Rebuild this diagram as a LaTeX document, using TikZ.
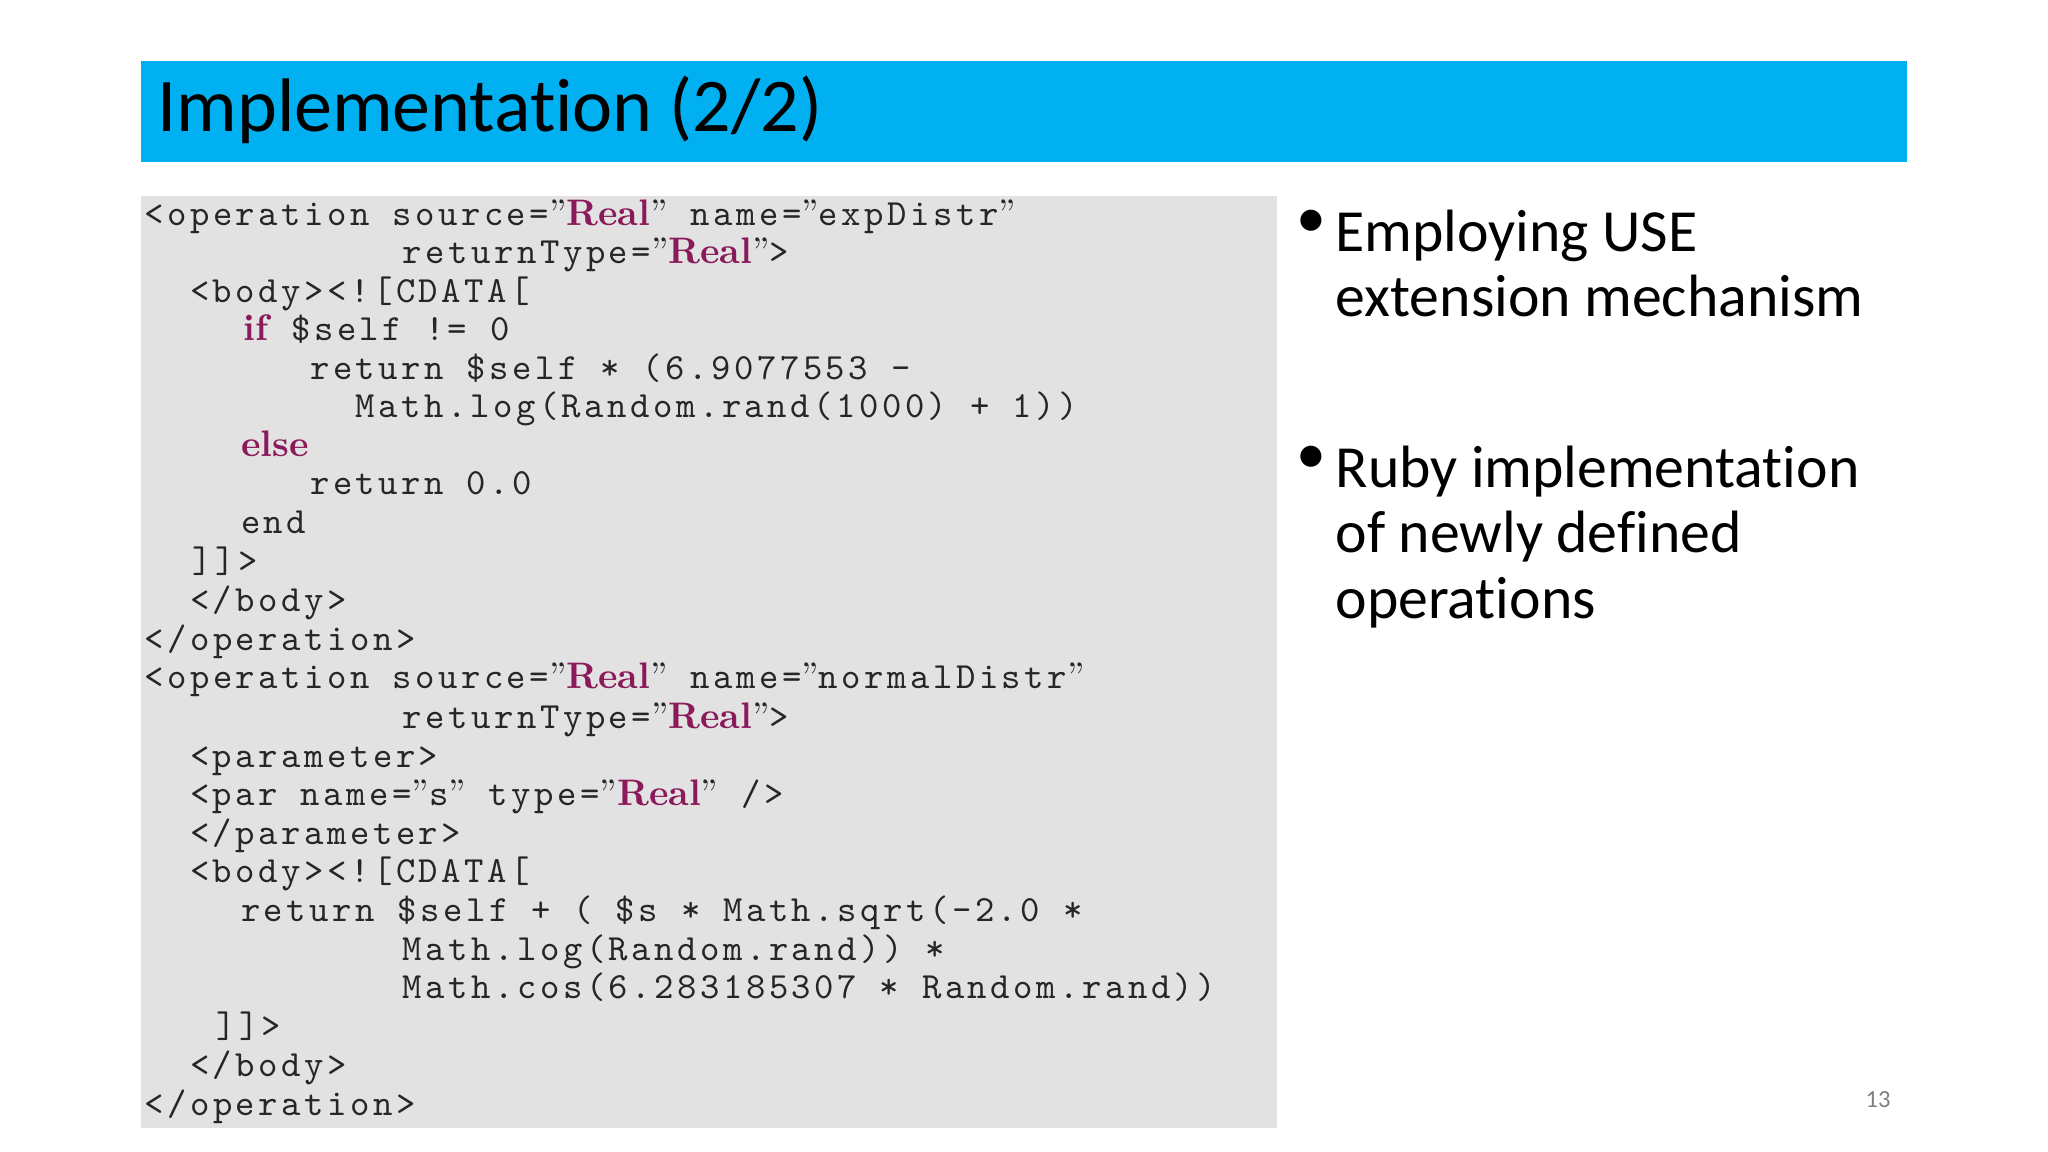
\documentclass[tikz,border=0pt]{standalone}
\usepackage{fontspec}
\newfontfamily\calib{Carlito}[Ligatures=NoCommon]
\newfontfamily\codefont{Latin Modern Mono}[LetterSpace=9.5]
\definecolor{hdr}{HTML}{00B0F0}
\definecolor{codebg}{HTML}{E2E2E2}
\definecolor{kw}{HTML}{8B1A5A}
\newcommand\kw[1]{{\rmfamily\bfseries\color{kw}#1}}
\newcommand\q{{\rmfamily ”}}
\begin{document}
\begin{tikzpicture}[x=0.01306cm,y=-0.01306cm,
  code/.style={anchor=west,inner sep=0pt,text height=8pt,text depth=2.5pt,font=\fontsize{10.5}{13}\selectfont\codefont,text=black!85},
  bul/.style={anchor=north west,inner sep=0pt,align=left,font=\calib\fontsize{17}{18.6}\selectfont},
  dot/.style={anchor=north west,inner sep=0pt,font=\calib\fontsize{17}{18.6}\selectfont}]
\useasboundingbox (0,0) rectangle (1568,882);
\fill[white] (0,0) rectangle (1568,882);
\fill[hdr] (108,47) rectangle (1460,124);
\node[anchor=west,inner sep=0pt,font=\calib\fontsize{21.6}{26}\selectfont] (title) at (120,84) {Implementation (2/2)};
\fill[codebg] (108,150) rectangle (978,864);
\node[code] (l1) at (110,165) {<operation source=\q\kw{Real}\q{} name=\q{}expDistr\q};
\node[code] (l2) at (308,194) {returnType=\q\kw{Real}\q>};
\node[code] (l3) at (145,224) {<body><![CDATA[};
\node[code] (l4) at (186,253) {\kw{if} \$self != 0};
\node[code] (l5) at (237,283) {return \$self * (6.9077553 -};
\node[code] (l6) at (272,312) {Math.log(Random.rand(1000) + 1))};
\node[code] (l7) at (184,342) {\kw{else}};
\node[code] (l8) at (237,371) {return 0.0};
\node[code] (l9) at (184,401) {end};
\node[code] (l10) at (147,431) {]]>};
\node[code] (l11) at (145,461) {</body>};
\node[code] (l12) at (110,491) {</operation>};
\node[code] (l13) at (110,520) {<operation source=\q\kw{Real}\q{} name=\q{}normalDistr\q};
\node[code] (l14) at (308,550) {returnType=\q\kw{Real}\q>};
\node[code] (l15) at (145,580) {<parameter>};
\node[code] (l16) at (145,609) {<par name=\q{}s\q{} type=\q\kw{Real}\q{} />};
\node[code] (l17) at (145,639) {</parameter>};
\node[code] (l18) at (145,668) {<body><![CDATA[};
\node[code] (l19) at (184,698) {return \$self + ( \$s * Math.sqrt(-2.0 *};
\node[code] (l20) at (308,728) {Math.log(Random.rand)) *};
\node[code] (l21) at (308,757) {Math.cos(6.283185307 * Random.rand))};
\node[code] (l22) at (165,787) {]]>};
\node[code] (l23) at (145,817) {</body>};
\node[code] (l24) at (110,847) {</operation>};
\node[dot] (d1) at (992,160) {•};
\node[bul] (b1) at (1022,160) {Employing USE\\extension mechanism};
\node[dot] (d2) at (992,341) {•};
\node[bul] (b2) at (1022,341) {Ruby implementation\\of newly defined\\operations};
\node[inner sep=0pt,font=\calib\fontsize{7}{8}\selectfont,text=black!50] (pg) at (1438,842) {13};
\end{tikzpicture}
\end{document}
